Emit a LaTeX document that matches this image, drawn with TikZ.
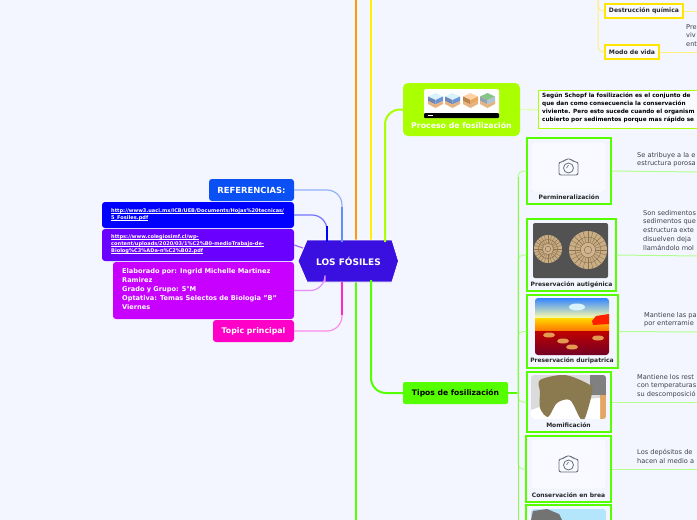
\documentclass[tikz,border=0pt]{standalone}
\usepackage{fontspec}
\setmainfont{DejaVu Sans}
\newcommand{\linkline}[1]{\setbox0=\hbox{#1}\rlap{\rule[-0.8pt]{\wd0}{0.3pt}}\box0}
\definecolor{bgcol}{HTML}{F3F6FF}
\definecolor{orangeline}{HTML}{FF9A00}
\definecolor{yellowline}{HTML}{FFF000}
\definecolor{limeline}{HTML}{AAFF00}
\definecolor{greenline}{HTML}{55FF00}
\definecolor{greenpale}{HTML}{B4FF90}
\definecolor{limepale}{HTML}{DDFFB0}
\definecolor{yellowpale}{HTML}{FFF080}
\definecolor{refblue}{HTML}{0A50F5}
\definecolor{linkblue}{HTML}{0000FF}
\definecolor{linkviolet}{HTML}{6A00FF}
\definecolor{authviolet}{HTML}{C800FF}
\definecolor{topicpink}{HTML}{FF00C8}
\definecolor{centerblue}{HTML}{3A10E0}
\definecolor{camgray}{HTML}{6B6F7A}
\definecolor{bodygray}{HTML}{3C3F48}
\definecolor{shelltan}{HTML}{C9AD84}
\definecolor{shellrib}{HTML}{8D7350}
\definecolor{furbrown}{HTML}{8B7A50}
\begin{document}
\begin{tikzpicture}[x=1pt,y=-1pt]
 \tikzstyle{leftnode} = [fill=#1,rounded corners=3,inner sep=0,text=white,font=\bfseries]
 \tikzstyle{trunk} = [line width=2,rounded corners=15]
 \tikzstyle{thinline} = [line width=1.2,rounded corners=15]
 \tikzstyle{twig} = [line width=1,rounded corners=5]
 \tikzstyle{kidbox} = [draw=greenline,line width=1.1,fill=bgcol,inner sep=0]
 \tikzstyle{topbox} = [draw=yellowline!90!orange,line width=1.1,fill=bgcol!40!white,inner sep=0,font=\fontsize{6.1}{8}\selectfont\bfseries,text=black!85]
 \tikzstyle{caption} = [inner sep=0,font=\fontsize{6}{8}\selectfont\bfseries,text=black!85]
 \tikzstyle{bodytext} = [anchor=north west,inner sep=0,align=left,text=bodygray,font=\fontsize{6.6}{8.6}\selectfont]
 \tikzstyle{emptypic} = [draw=black!8,fill=bgcol!60!white,rounded corners=3,inner sep=0]
 \newcommand{\camicon}[2]{%
  \draw[camgray,line width=0.9,rounded corners=2] (#1-9.5,#2-5) -- (#1-5,#2-5) -- (#1-3,#2-8) -- (#1+3,#2-8) -- (#1+5,#2-5) -- (#1+9.5,#2-5) -- (#1+9.5,#2+8) -- (#1-9.5,#2+8) -- cycle;
  \draw[camgray,line width=0.8] (#1,#2+1) circle[radius=5pt];
  \draw[camgray,line width=0.6] (#1-2,#2+1) -- (#1,#2-2);}
 \newcommand{\blockpic}[4]{%
  \fill[#3] (#1-7.5,#2-4) -- (#1,#2-7.5) -- (#1+7.5,#2-4) -- (#1,#2-0.5) -- cycle;
  \fill[#4!80!black] (#1-7.5,#2-4) -- (#1,#2-0.5) -- (#1,#2+4) -- (#1-7.5,#2+0.5) -- cycle;
  \fill[#4] (#1+7.5,#2-4) -- (#1,#2-0.5) -- (#1,#2+4) -- (#1+7.5,#2+0.5) -- cycle;
  \fill[orange!35!brown!60!white] (#1-7.5,#2+0.5) -- (#1,#2+4) -- (#1+7.5,#2+0.5) -- (#1+7.5,#2+3.5) -- (#1,#2+7.5) -- (#1-7.5,#2+3.5) -- cycle;}

 \useasboundingbox (0,0) rectangle (697,520);
 \clip (0,0) rectangle (697,520);
 \fill[bgcol] (0,0) rectangle (697,520);

% Anchors of the connectors
 \coordinate (orangetop) at (356,0);
 \coordinate (yellowtop) at (371,0);
 \coordinate (greenbot) at (356,520);
 \coordinate (orangebot) at (356,242);
 \coordinate (yellowbot) at (371,242);
 \coordinate (limebot) at (385,242);
 \coordinate (greenup) at (356,280);
 \coordinate (tipup) at (371,280);
 \coordinate (yeltree) at (598,0);
 \coordinate (trunktop) at (518,177);
 \coordinate (trunkbot) at (518,520);
 \coordinate (trunkmid) at (518,393);
 \coordinate (edgeA) at (697,172);
 \coordinate (edgeB) at (697,256);
 \coordinate (edgeC) at (697,332);
 \coordinate (edgeD) at (697,402);
 \coordinate (edgeE) at (697,469);
 \coordinate (edgeQ) at (697,11);
 \coordinate (edgeV) at (697,52);
 \coordinate (refsdown) at (342,242);
 \coordinate (refsmid) at (342,207);
 \coordinate (linkadown) at (327,242);
 \coordinate (linkamid) at (327,226);
 \coordinate (authup) at (325,282);
 \coordinate (topicup) at (342,282);
 \coordinate (topicmid) at (342,315);
 \coordinate (linkbend) at (303,248);

% Main branches
 \draw[orangeline,line width=2.2] (orangetop) -- (orangebot);
 \draw[yellowline,line width=2] (yellowtop) -- (yellowbot);
 \draw[greenline,line width=2.4] (greenup) -- (greenbot);

% Nodes
 \filldraw[draw=white,fill=centerblue,line width=0.8] (298,261) -- (307,240) -- (392,240) -- (398.5,261) -- (392,282) -- (307,282) -- cycle;
 \node[inner sep=0,text=white,font=\fontsize{9}{10}\selectfont\bfseries] (center) at (348.5,261) {LOS FÓSILES};

 \node[leftnode=refblue,minimum width=85,minimum height=22,font=\fontsize{8.4}{10}\selectfont\bfseries] (refs) at (251.5,190) {REFERENCIAS:};
 \node[leftnode=linkblue,minimum width=192,minimum height=26] (linka) at (198,215) {};
 \node[leftnode=linkviolet,minimum width=192,minimum height=32] (linkb) at (198,245) {};
 \node[leftnode=authviolet,minimum width=181,minimum height=57] (auth) at (203.5,290.5) {};
 \node[leftnode=topicpink,minimum width=81,minimum height=22,font=\fontsize{7.8}{10}\selectfont\bfseries] (topic) at (253.5,331) {Topic principal};

 \node[anchor=north west,inner sep=0,align=left,text=white,font=\fontsize{5.05}{7}\selectfont\bfseries] (linkatext) at (111,208)
   {\linkline{http://www3.uaci.mx/ICB/UEB/Documents/Hojas\%20tecnicas/}\\\linkline{5\_Fosiles.pdf}};
 \node[anchor=north west,inner sep=0,align=left,text=white,font=\fontsize{5.05}{7}\selectfont\bfseries] (linkbtext) at (111,234.5)
   {\linkline{https://www.colegiosimf.cl/wp-}\\\linkline{content/uploads/2020/03/1\%C2\%B0-medioTrabajo-de-}\\\linkline{Biolog\%C3\%ADa-n\%C2\%B02.pdf}};
 \node[anchor=north west,inner sep=0,align=left,text=white,font=\fontsize{6.6}{9.1}\selectfont\bfseries] (authtext) at (122,268)
   {Elaborado por: Ingrid Michelle Martinez\\Ramirez\\Grado y Grupo: 5°M\\Optativa: Temas Selectos de Biologia "B"\\Viernes};

 \node[fill=limeline,rounded corners=5,minimum width=117,minimum height=53,inner sep=0] (proc) at (461.5,109.5) {};
 \node[inner sep=0,text=white,font=\fontsize{7.8}{10}\selectfont\bfseries] (proclab) at (461.5,125) {Proceso de fosilización};
 \node[fill=white,rounded corners=2,minimum width=75,minimum height=29,inner sep=0] (procpic) at (461.5,103.5) {};
 \node[fill=greenline,rounded corners=2,minimum width=105,minimum height=22,inner sep=0,text=black,font=\fontsize{7.6}{10}\selectfont\bfseries] (tipos) at (455.5,393) {Tipos de fosilización};

 \node[draw=limeline,line width=1.2,fill=bgcol!40!white,anchor=north west,minimum width=175,minimum height=38,inner sep=0] (schopf) at (538,90) {};
 \node[anchor=north west,inner sep=0,align=left,text=black,font=\fontsize{5.75}{8}\selectfont\bfseries] (schopftext) at (542,93)
   {Según Schopf  la fosilización es el conjunto de\\que dan como consecuencia  la conservación\\viviente. Pero esto sucede cuando el organism\\cubierto por sedimentos porque mas rápido se};

 \node[topbox,minimum width=78,minimum height=14] (quim) at (644,11) {Destrucción química};
 \node[topbox,minimum width=54,minimum height=14] (modo) at (632,52) {Modo de vida};
 \node[bodytext] (modotext) at (686,24) {Pre\\viv\\ent};

 \node[kidbox,minimum width=84,minimum height=66] (perm) at (569,171) {};
 \node[kidbox,minimum width=89,minimum height=72] (auti) at (571.5,255) {};
 \node[kidbox,minimum width=91,minimum height=73] (duri) at (572.5,331.5) {};
 \node[kidbox,minimum width=84,minimum height=60] (momi) at (569,402) {};
 \node[kidbox,minimum width=85,minimum height=66] (brea) at (568.5,469) {};
 \node[kidbox,minimum width=85,minimum height=40] (last) at (568.5,525) {};

 \node[caption] (permlab) at (569,197) {Permineralización};
 \node[caption] (autilab) at (571.5,285) {Preservación autigénica};
 \node[caption] (durilab) at (572,361) {Preservación duripatrica};
 \node[caption] (momilab) at (568.5,425.5) {Momificación};
 \node[caption] (brealab) at (568.5,495) {Conservación en brea};

 \node[bodytext] (permtext) at (637,152) {Se atribuye a la e\\estructura porosa};
 \node[bodytext,font=\fontsize{6.6}{8.7}\selectfont] (autitext) at (643,210) {Son sedimentos\\sedimentos que\\estructura exte\\disuelven deja\\llamándolo mol};
 \node[bodytext] (duritext) at (644,312) {Mantiene las pa\\por enterramie};
 \node[bodytext] (momitext) at (637,374) {Mantiene los rest\\con temperaturas\\su descomposició};
 \node[bodytext,font=\fontsize{6.6}{9.4}\selectfont] (breatext) at (637,449) {Los depósitos de\\hacen al medio a};

% Branches out of the centre
 \draw[limeline,trunk] (proc.west) -| (limebot);
 \draw[greenline,trunk] (tipos.west) -| (tipup);
 \draw[refblue!45!white,thinline] (refs.east) -| (refsdown);
 \draw[refblue!65!white,line width=1.8] (refsmid) -- (refsdown);
 \draw[linkblue!55!white,thinline] (linka.east) -| (linkadown);
 \draw[linkblue,line width=1.8] (linkamid) -- (linkadown);
 \draw[linkviolet!60!white,line width=1.2] (linkb.east) -- (linkbend);
 \draw[authviolet!45!white,thinline] (auth.east) -| (authup);
 \draw[topicpink!45!white,thinline] (topic.east) -| (topicup);
 \draw[topicpink!85!white,line width=1.8] (topicmid) -- (topicup);

% Twigs
 \draw[yellowpale,twig] (yeltree) |- (quim.west);
 \draw[yellowpale,twig] (yeltree) |- (modo.west);
 \draw[yellowpale,line width=1] (quim.east) -- (edgeQ);
 \draw[yellowpale,line width=1] (modo.east) -- (edgeV);
 \draw[limepale,line width=1.4] (proc.east) -- (schopf.west);
 \draw[greenline,line width=1.2] (tipos.east) -- (trunkmid);
 \foreach \kid in {perm,auti,duri,momi,brea}
  \draw[greenpale,twig] (trunkmid) |- (\kid.west);
 \draw[greenline!75!white,line width=1] (trunktop) -- (trunkbot);
 \foreach \kid/\edge in {perm/edgeA,auti/edgeB,duri/edgeC,momi/edgeD,brea/edgeE}
  \draw[greenpale,line width=1] (\kid.east) -- (\edge);

% Pictures
 \fill[black,rounded corners=1] (424,113) rectangle (499,118);
 \fill[white] (428,114.5) rectangle (433,116);
 \blockpic{435.5}{100.5}{cyan!15!white}{cyan!45!blue!60!white}
 \blockpic{452.5}{100.5}{cyan!15!white}{cyan!45!blue!60!white}
 \blockpic{470.5}{100.5}{orange!35!white}{orange!60!brown!70!white}
 \blockpic{487.5}{100.5}{green!35!gray!70!white}{cyan!30!gray!60!white}

 \node[emptypic,minimum width=75,minimum height=50] (permpic) at (568.5,167) {};
 \camicon{568.5}{167}
 \node[emptypic,minimum width=75,minimum height=50] (breapic) at (568.5,464) {};
 \camicon{568.5}{464}

 \fill[black!68,rounded corners=2] (533,223) rectangle (608,278);
 \foreach \cx/\cy/\rr in {588/250/19,548/249/14} {
  \fill[shelltan] (\cx,\cy) circle[radius=\rr pt];
  \foreach \a in {0,15,...,345}
   \draw[shellrib,line width=0.4] (\cx,\cy) -- ++(\a:\rr);
  \draw[shellrib,line width=0.5] (\cx,\cy) circle[radius=0.68*\rr pt];
  \fill[shelltan!90!white] (\cx,\cy) circle[radius=0.4*\rr pt];
  \draw[shellrib,line width=0.5] (\cx,\cy) circle[radius=0.4*\rr pt];
  \draw[shellrib,line width=0.5] (\cx,\cy) circle[radius=0.2*\rr pt];
 }

 \begin{scope}
  \clip[rounded corners=3] (535,298) rectangle (609,355);
  \shade[top color=blue!60!cyan!80!white,bottom color=yellow!35!white] (535,298) rectangle (609,318);
  \shade[top color=yellow!70!orange,bottom color=orange!90!red] (535,318) rectangle (609,331);
  \shade[top color=red!75!black,bottom color=purple!60!black] (535,331) rectangle (609,355);
  \fill[white!85!cyan] (577,307) ellipse[x radius=8pt,y radius=3.5pt];
  \fill[red!75!orange] (592,321) -- (596,316) -- (609,314) -- (609,324) -- (593,325) -- cycle;
  \foreach \bx/\by in {549/335,563/341,572/347,598/338}
   \fill[orange!45!brown!80!white] (\bx,\by) ellipse[x radius=6pt,y radius=2.5pt];
 \end{scope}

 \begin{scope}
  \clip[rounded corners=3] (531,375) rectangle (606,419);
  \fill[black!14] (531,375) rectangle (606,419);
  \fill[black!50] (590,375) rectangle (606,395);
  \fill[orange!40!brown!70!white] (600,395) rectangle (606,419);
  \fill[white] (531,410) -- (560,400) -- (600,398) -- (600,419) -- (531,419) -- cycle;
  \fill[furbrown] plot[smooth cycle] coordinates {(540,380) (565,375) (590,385) (592,393) (585,418) (580,418) (570,400) (557,403) (548,417) (540,408) (540,392)};
 \end{scope}

 \begin{scope}
  \clip[rounded corners=3] (531,509) rectangle (606,530);
  \fill[cyan!30!white] (531,509) rectangle (606,530);
  \fill[black!55] (531,520) -- (533,511) -- (547,509) -- (559,514) -- (562,520) -- cycle;
 \end{scope}
\end{tikzpicture}
\end{document}
